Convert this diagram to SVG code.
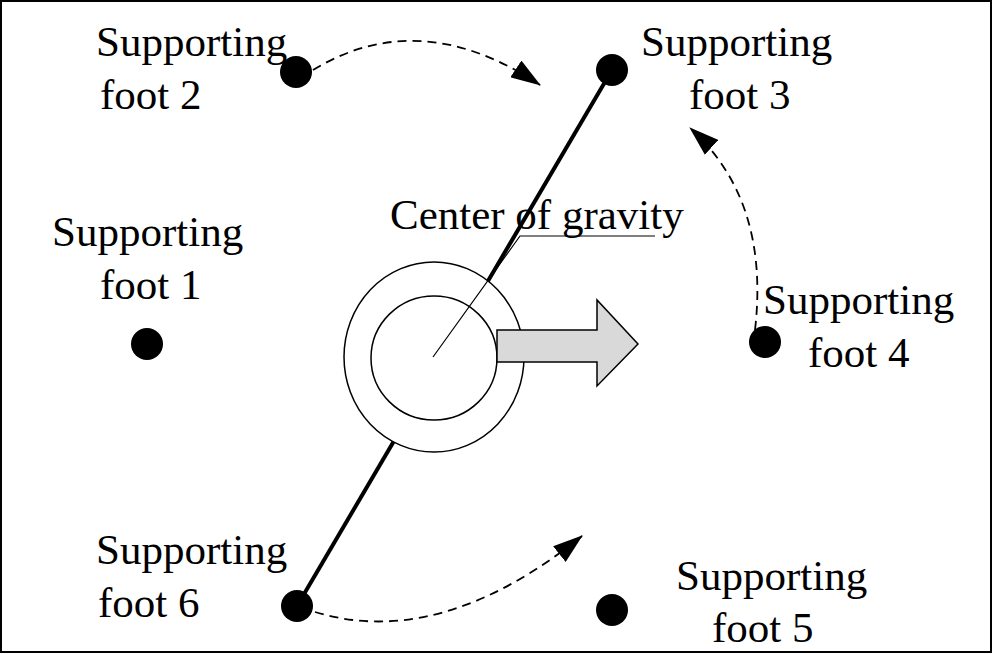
<svg xmlns="http://www.w3.org/2000/svg" width="993" height="654" viewBox="0 0 993 654">
<defs>
<style>
text{font-family:"Liberation Serif",serif;font-size:43px;fill:#000}
.dash{fill:none;stroke:#000;stroke-width:1.8;stroke-dasharray:9 6}
.dot{fill:#000}
</style>
<marker id="ah" markerWidth="10" markerHeight="8" refX="9" refY="4" orient="auto" markerUnits="userSpaceOnUse" viewBox="0 0 10 8">
<path d="M0,0 L10,4 L0,8 z" fill="#000"/>
</marker>
<marker id="ah2" viewBox="0 0 30 20" refX="29" refY="10" markerWidth="30" markerHeight="20" orient="auto" markerUnits="userSpaceOnUse">
<path d="M0,0 L30,10 L0,20 z" fill="#000"/>
</marker>
</defs>
<rect x="1" y="1" width="990" height="651" fill="#fff" stroke="#000" stroke-width="2"/>
<g id="body">
<line x1="612" y1="70" x2="297" y2="606" stroke="#000" stroke-width="4"/>
<ellipse cx="434" cy="357" rx="90" ry="95" fill="#fff" stroke="#000" stroke-width="1.5"/>
<ellipse cx="434" cy="358" rx="63" ry="62" fill="#fff" stroke="#000" stroke-width="1.5"/>
<path d="M497,330 H597 V300 L638,344 L597,386 V362 H497 z" fill="#d9d9d9" stroke="#000" stroke-width="1.5"/>
<polyline points="433,357 520,236 655,236" fill="none" stroke="#000" stroke-width="1.2"/>
<text x="390" y="229" font-size="40">Center of gravity</text>
</g>
<g id="connectors">
<path class="dash" d="M313,70 Q420,5 540,85" marker-end="url(#ah2)"/>
<path class="dash" d="M755,330 Q770,200 690,128" marker-end="url(#ah2)"/>
<path class="dash" d="M315,612 Q440,650 582,536" marker-end="url(#ah2)"/>
</g>
<g id="foot1"><circle class="dot" cx="147" cy="344" r="16"/><text x="52" y="246">Supporting</text><text x="100" y="299">foot 1</text></g>
<g id="foot2"><circle class="dot" cx="296" cy="72" r="16"/><text x="96" y="56">Supporting</text><text x="100" y="109">foot 2</text></g>
<g id="foot3"><circle class="dot" cx="612" cy="70" r="16"/><text x="641" y="56">Supporting</text><text x="689" y="109">foot 3</text></g>
<g id="foot4"><circle class="dot" cx="765" cy="342" r="16"/><text x="763" y="314">Supporting</text><text x="808" y="367">foot 4</text></g>
<g id="foot5"><circle class="dot" cx="612" cy="610" r="16"/><text x="676" y="590">Supporting</text><text x="712" y="642">foot 5</text></g>
<g id="foot6"><circle class="dot" cx="297" cy="606" r="16"/><text x="96" y="564">Supporting</text><text x="98" y="617">foot 6</text></g>
</svg>
